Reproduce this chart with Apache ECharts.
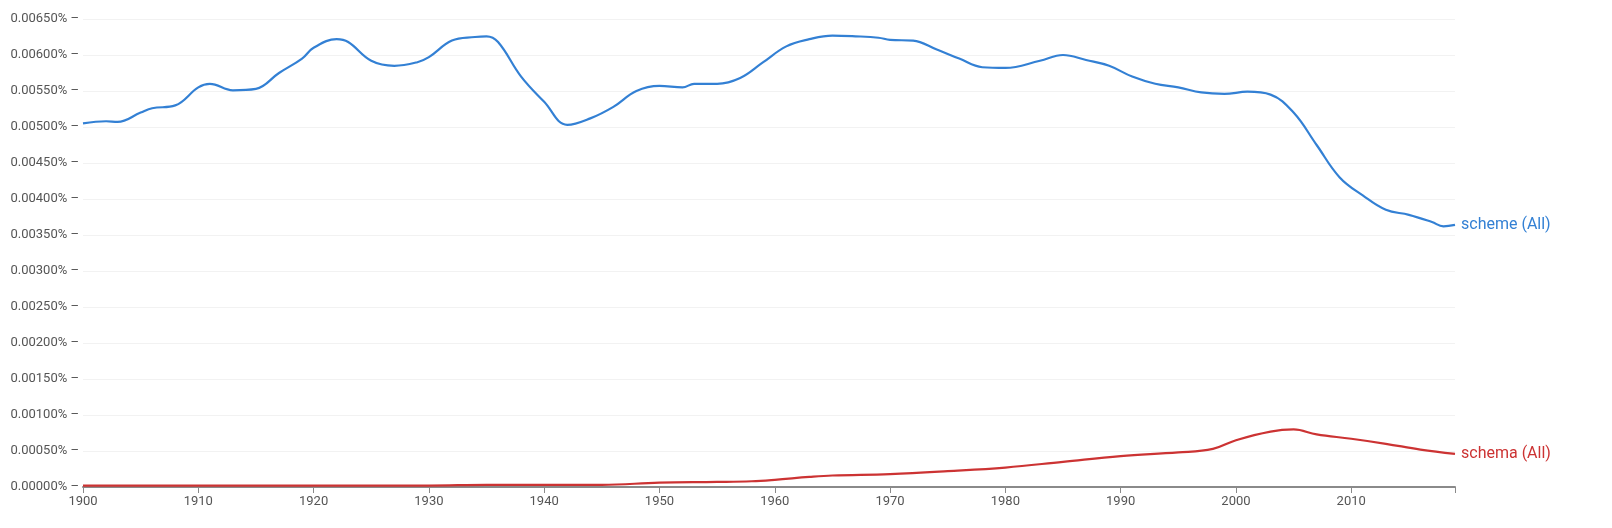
<!DOCTYPE html>
<html>
<head>
<meta charset="utf-8">
<script src="https://cdn.jsdelivr.net/npm/echarts@6/dist/echarts.min.js"></script>
<style>html,body{margin:0;padding:0;background:#fff}#main{width:1612px;height:528px}</style>
</head>
<body>
<div id="main"></div>
<script>
var schemeYears = [1900,1902,1903,1905,1906,1908,1910,1911,1913,1915,1917,1919,1920,1922,1923,1925,1927,1929,1930,1932,1934,1935,1936,1938,1940,1942,1944,1946,1948,1950,1952,1953,1955,1957,1959,1961,1963,1965,1967,1969,1970,1972,1974,1976,1978,1980,1983,1985,1987,1989,1991,1993,1995,1997,1999,2001,2003,2005,2007,2009,2011,2013,2015,2017,2018,2019];
var schemeValues = [0.00505,0.00508,0.00507,0.00520,0.00526,0.00530,0.00555,0.00560,0.00551,0.00553,0.00575,0.00595,0.00610,0.00622,0.00618,0.00592,0.00585,0.00590,0.00597,0.00620,0.00625,0.00626,0.00618,0.00570,0.00535,0.00503,0.00512,0.00528,0.00550,0.00557,0.00555,0.00560,0.00560,0.00568,0.00590,0.00612,0.00622,0.00627,0.00626,0.00624,0.00621,0.00620,0.00608,0.00595,0.00583,0.00582,0.00592,0.00600,0.00593,0.00585,0.00570,0.00560,0.00555,0.00548,0.00546,0.00549,0.00545,0.00520,0.00475,0.00430,0.00405,0.00385,0.00378,0.00368,0.00362,0.00364];
var schemaYears = [1900,1910,1920,1930,1935,1940,1945,1950,1955,1958,1960,1963,1965,1970,1975,1980,1985,1990,1995,1998,2000,2003,2005,2007,2010,2013,2016,2019];
var schemaValues = [0.00002,0.00002,0.00002,0.00002,0.00003,0.00003,0.00003,0.00006,0.00007,0.00008,0.00010,0.00014,0.00016,0.00018,0.00022,0.00027,0.00035,0.00043,0.00048,0.00053,0.00065,0.00077,0.00080,0.00073,0.00067,0.00060,0.00052,0.00046];

function pairs(xs, ys) {
	var out = [];
	for (var i = 0; i < xs.length; i++) out.push([xs[i], ys[i]]);
	return out;
}

var chart = echarts.init(document.getElementById("main"));
chart.setOption({
	animation: false,
	textStyle: {fontFamily: "Roboto"},
	grid: {left: 83, right: 157, top: 19, bottom: 41},
	xAxis: {
		type: 'value', min: 1900, max: 2019, interval: 10,
		axisLine: {lineStyle: {color: '#8a8a8a', width: 2}},
		axisTick: {show: true, length: 6, lineStyle: {color: '#8a8a8a'}},
		axisLabel: {color: '#555', fontSize: 13, formatter: function(v){ return v % 10 === 0 ? String(v) : ''; }},
		splitLine: {show: false}
	},
	yAxis: {
		type: 'value', min: 0, max: 0.0065, interval: 0.0005,
		axisLine: {show: false},
		axisTick: {show: false},
		axisLabel: {color: '#555', fontSize: 13, margin: 4, formatter: function(v){ return v.toFixed(5) + '% \u2013'; }},
		splitLine: {lineStyle: {color: '#f2f2f2'}}
	},
	series: [
		{
			name: 'scheme (All)', type: 'line', smooth: 0.4, symbol: 'none',
			lineStyle: {color: '#3380d4', width: 2.2}, itemStyle: {color: '#3380d4'},
			endLabel: {show: true, formatter: '{a}', color: '#3380d4', fontSize: 16, distance: 6},
			data: pairs(schemeYears, schemeValues)
		},
		{
			name: 'schema (All)', type: 'line', smooth: 0.4, symbol: 'none',
			lineStyle: {color: '#cc3333', width: 2.2}, itemStyle: {color: '#cc3333'},
			endLabel: {show: true, formatter: '{a}', color: '#cc3333', fontSize: 16, distance: 6},
			data: pairs(schemaYears, schemaValues)
		}
	]
});
</script>
</body>
</html>
